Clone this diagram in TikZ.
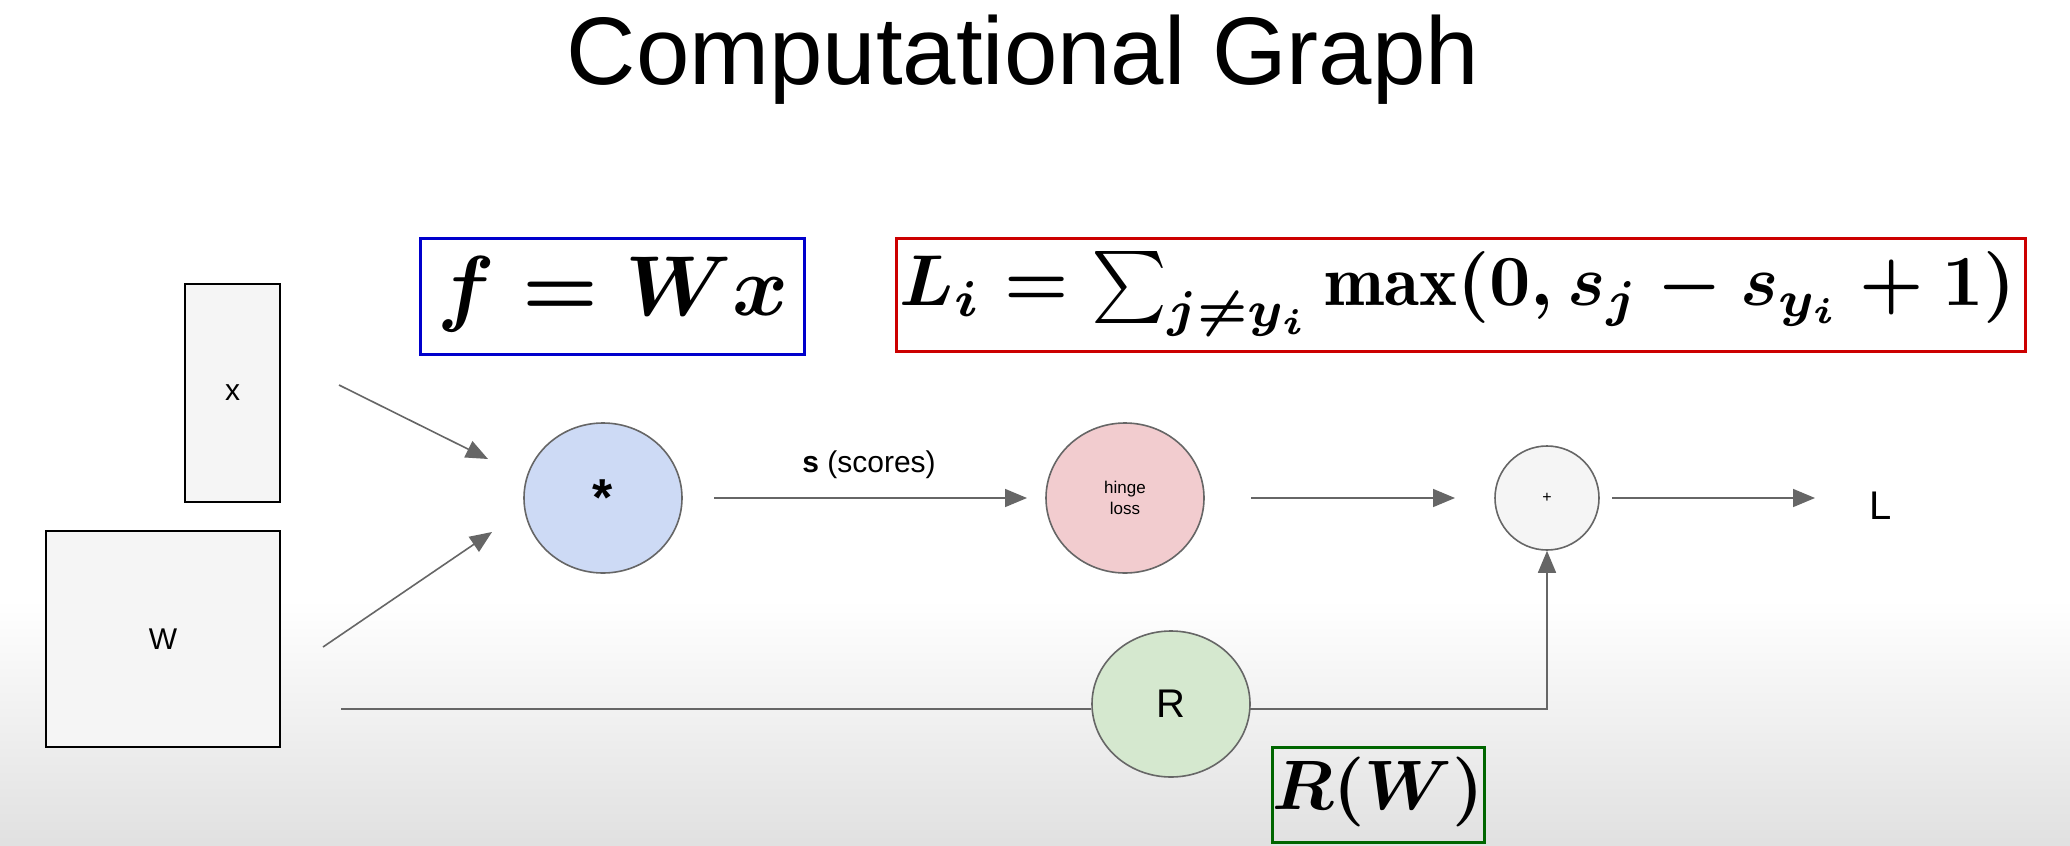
\documentclass[tikz,border=0pt]{standalone}
\usepackage{fontspec}
\setsansfont{Liberation Sans}
\usetikzlibrary{shapes.geometric,arrows.meta}
\definecolor{cblue}{HTML}{CDDAF5}
\definecolor{cpink}{HTML}{F2CCCF}
\definecolor{cgreen}{HTML}{D5E8CF}
\begin{document}
\begin{tikzpicture}[x=1pt,y=-1pt,
  arr/.style={draw=black!60,line width=1.6pt,-{Triangle[length=22pt,width=18pt]}},
  ln/.style={draw=black!60,line width=1.6pt},
  mat/.style={draw=black,line width=1.6pt,fill=black!4,font=\sffamily\fontsize{30}{34}\selectfont},
  op/.style={ellipse,draw=black!60,line width=1.6pt,inner sep=0pt},
  fbox/.style={line width=3pt,inner sep=0pt}]
\shade[top color=white,bottom color=black!12] (0,600) rectangle (2070,846);
\fill[white] (0,0) rectangle (2070,600);
\useasboundingbox (0,0) rectangle (2070,846);
\node[font=\sffamily\fontsize{96}{104}\selectfont] (title) at (1023,60) {Computational Graph};
\node[mat,minimum width=95pt,minimum height=218pt] (x) at (232.5,393) {x};
\node[mat,minimum width=234pt,minimum height=216pt] (W) at (163,639) {W};
\draw[fbox,draw=blue!80!black] (420,238) rectangle (804,354);
\node (fw) at (613,294) {\scalebox{8.5}{\boldmath$f=Wx$}};
\draw[fbox,draw=red!80!black] (896,238) rectangle (2025,351);
\node (li) at (1458,294) {\scalebox{7.2}{\boldmath$L_i=\sum_{j\neq y_i}\max(0,s_j-s_{y_i}+1)$}};
\draw[fbox,draw=green!40!black] (1272,747) rectangle (1484,842);
\node (rw) at (1378,792) {\scalebox{7}{\boldmath$R(W)$}};
\node[op,fill=cblue,minimum width=158pt,minimum height=150pt,font=\sffamily\bfseries\fontsize{52}{52}\selectfont] (mul) at (603,498) {*};
\node[op,fill=cpink,minimum width=158pt,minimum height=150pt,align=center,font=\sffamily\fontsize{17}{21}\selectfont] (hl) at (1125,498) {hinge\\loss};
\node[op,fill=black!4,minimum width=104pt,minimum height=104pt,font=\sffamily\fontsize{16}{16}\selectfont] (plus) at (1547,498) {+};
\node[op,fill=cgreen,minimum width=158pt,minimum height=146pt,font=\sffamily\fontsize{40}{40}\selectfont] (R) at (1171,704) {R};
\node[font=\sffamily\fontsize{40}{40}\selectfont] (L) at (1881,506) {L};
\node[font=\sffamily\fontsize{30}{34}\selectfont] (sl) at (869,465) {\textbf{s} (scores)};
\coordinate (xs) at (339,385); \coordinate (xe) at (488,459);
\coordinate (ws) at (323,647); \coordinate (we) at (492,532);
\draw[arr] (xs) -- (xe);
\draw[arr] (ws) -- (we);
\coordinate (a1) at (714,498); \coordinate (a2) at (1027,498);
\draw[arr] (a1) -- (a2);
\coordinate (b1) at (1251,498); \coordinate (b2) at (1455,498);
\draw[arr] (b1) -- (b2);
\coordinate (c1) at (1612,498); \coordinate (c2) at (1815,498);
\draw[arr] (c1) -- (c2);
\coordinate (d1) at (341,709);
\draw[ln] (d1) -- (R.west |- d1);
\coordinate (e1) at (1249,709);
\draw[arr] (e1) -- (1547,709) -- (plus.south);
\end{tikzpicture}
\end{document}
